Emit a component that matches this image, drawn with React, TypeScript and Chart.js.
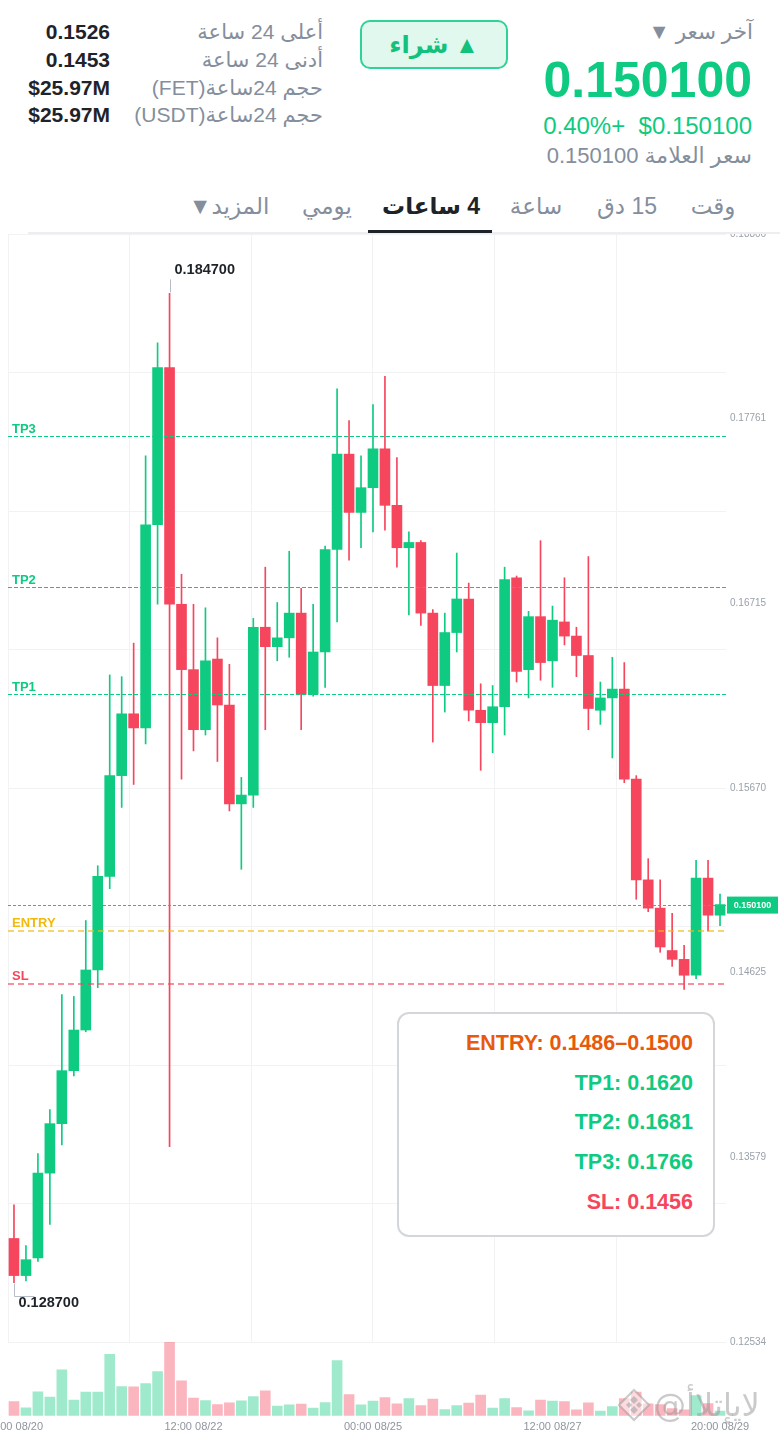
import React, { useEffect, useRef } from "react";
import { Chart, registerables } from "chart.js";

Chart.register(...registerables);

// ---- data (4h candles, FET/USDT) ----
const opens = [
  0.1312, 0.1291, 0.1301, 0.1349, 0.1377, 0.1407, 0.143, 0.1464, 0.1517, 0.1574,
  0.1609, 0.1601, 0.1716, 0.1805, 0.1671, 0.1634, 0.16, 0.164, 0.1614, 0.1558,
  0.1563, 0.1658, 0.1647, 0.1652, 0.1666, 0.162, 0.1644, 0.1702, 0.1756, 0.1723,
  0.1737, 0.1759, 0.1727, 0.1703, 0.1706, 0.1666, 0.1625, 0.1655, 0.1674, 0.1611,
  0.1604, 0.1613, 0.1686, 0.1634, 0.1664, 0.1639, 0.1661, 0.1653, 0.1642, 0.1611,
  0.1618, 0.1623, 0.1572, 0.1515, 0.1499, 0.1475, 0.147, 0.1461, 0.1516, 0.1495,
];
const highs = [
  0.1331, 0.1308, 0.136, 0.1385, 0.145, 0.1449, 0.1492, 0.1523, 0.1631, 0.163,
  0.1649, 0.1755, 0.1819, 0.1847, 0.1688, 0.1671, 0.1669, 0.1652, 0.1637, 0.1573,
  0.1663, 0.1692, 0.1672, 0.1701, 0.168, 0.1671, 0.1704, 0.1793, 0.1775, 0.1755,
  0.1784, 0.18, 0.1754, 0.1712, 0.1707, 0.1668, 0.1666, 0.17, 0.1683, 0.1626,
  0.1625, 0.1692, 0.1687, 0.1667, 0.1707, 0.167, 0.1686, 0.1658, 0.1698, 0.1627,
  0.1641, 0.1638, 0.1574, 0.1527, 0.1515, 0.1496, 0.1478, 0.1526, 0.1526, 0.1507,
];
const lows = [
  0.1287, 0.1288, 0.1299, 0.132, 0.1365, 0.1404, 0.1429, 0.1454, 0.151, 0.1556,
  0.1569, 0.1592, 0.1671, 0.1364, 0.1572, 0.1588, 0.1597, 0.1582, 0.1554, 0.1521,
  0.1556, 0.16, 0.1639, 0.1641, 0.16, 0.1619, 0.1624, 0.1661, 0.1696, 0.1703,
  0.1712, 0.1713, 0.1692, 0.1665, 0.1659, 0.1593, 0.161, 0.1644, 0.1605, 0.1577,
  0.1587, 0.1597, 0.1627, 0.1618, 0.1628, 0.1624, 0.1648, 0.163, 0.16, 0.1603,
  0.1584, 0.157, 0.1504, 0.1497, 0.1474, 0.1466, 0.1453, 0.1459, 0.1486, 0.1489,
];
const closes = [
  0.1291, 0.13, 0.1349, 0.1377, 0.1407, 0.143, 0.1464, 0.1517, 0.1574, 0.1609,
  0.1601, 0.1716, 0.1805, 0.1671, 0.1634, 0.16, 0.1639, 0.1614, 0.1558, 0.1563,
  0.1658, 0.1647, 0.1652, 0.1666, 0.162, 0.1644, 0.1702, 0.1756, 0.1723, 0.1737,
  0.1759, 0.1727, 0.1703, 0.1706, 0.1666, 0.1625, 0.1655, 0.1674, 0.1611, 0.1604,
  0.1613, 0.1685, 0.1633, 0.1664, 0.1638, 0.1662, 0.1653, 0.1642, 0.1612, 0.1618,
  0.1623, 0.1572, 0.1515, 0.1499, 0.1477, 0.147, 0.1461, 0.1516, 0.1495, 0.1501,
];
const volumes = [
  43, 24, 72, 56, 138, 47, 71, 71, 185, 88,
  87, 97, 133, 222, 105, 53, 46, 34, 39, 45,
  58, 75, 29, 33, 35, 23, 40, 166, 64, 33,
  44, 55, 36, 52, 31, 50, 19, 31, 38, 62,
  23, 52, 25, 15, 47, 44, 43, 18, 39, 14,
  28, 52, 71, 36, 34, 22, 18, 61, 37, 14,
];

const xTickIndex = [0, 15, 30, 45, 59];
const xTickLabels = ["00:00 08/20", "12:00 08/22", "00:00 08/25", "12:00 08/27", "20:00 08/29"];
const priceTicks = [0.12534, 0.13579, 0.14625, 0.1567, 0.16715, 0.17761, 0.18806];
const gridPriceTicks = [0.12534, 0.13318, 0.14102, 0.14886, 0.1567, 0.16454, 0.17238, 0.18022, 0.18806];
const gridIndexTicks = [-0.5, 9.67, 19.83, 30, 40.17, 50.33];

const levelNames = ["TP3", "TP2", "TP1", "ENTRY", "SL"];
const levelValues = [0.1766, 0.1681, 0.162, 0.1486, 0.1456];
const entryRange = [0.1486, 0.15];
const lastPrice = 0.1501;

const statLabels = ["أعلى 24 ساعة", "أدنى 24 ساعة", "حجم 24ساعة(FET)", "حجم 24ساعة(USDT)"];
const statValues = ["0.1526", "0.1453", "$25.97M", "$25.97M"];
const tabLabels = ["وقت", "15 دق", "ساعة", "4 ساعات", "يومي", "المزيد▼"];
const activeTab = 3;

// ---- styles ----
const UP = "#0ecb81";
const DOWN = "#f6465d";
const GRAY = "#848e9c";
const DARK = "#1e2329";
const FONT = '"Liberation Sans", Arial, "DejaVu Sans", sans-serif';
const GRID = "#f1f2f4";
const levelStyle: Record<string, any> = {
  TP3: { line: UP, text: UP, width: 1, dash: [4, 2] },
  TP2: { line: UP, text: UP, width: 1, dash: [4, 2] },
  TP1: { line: UP, text: UP, width: 1, dash: [4, 2] },
  ENTRY: { line: "rgba(240,185,11,0.6)", text: "#f0b90b", width: 2, dash: [6, 4] },
  SL: { line: "rgba(246,70,93,0.6)", text: DOWN, width: 2, dash: [6, 4] },
};
const boxColors: Record<string, string> = { ENTRY: "#e8590c", TP1: UP, TP2: UP, TP3: UP, SL: DOWN };

const idx = opens.map((_, i) => i);
const isUp = idx.map((i) => closes[i] >= opens[i]);
const candleColors = isUp.map((u) => (u ? UP : DOWN));
const volColors = isUp.map((u) => (u ? "rgba(14,203,129,0.4)" : "rgba(246,70,93,0.4)"));

const overlayPlugin = {
  id: "overlay",
  afterDatasetsDraw(chart: any) {
    const { ctx, chartArea } = chart;
    const ys = chart.scales.y;
    const xs = chart.scales.x;
    ctx.save();
    levelNames.forEach((name, k) => {
      const st = levelStyle[name];
      const raw = ys.getPixelForValue(levelValues[k]);
      const py = st.width === 1 ? Math.round(raw) + 0.5 : Math.round(raw);
      ctx.beginPath();
      ctx.setLineDash(st.dash);
      ctx.lineWidth = st.width;
      ctx.strokeStyle = st.line;
      ctx.moveTo(chartArea.left, py);
      ctx.lineTo(chartArea.right, py);
      ctx.stroke();
      ctx.setLineDash([]);
      ctx.fillStyle = st.text;
      ctx.font = `bold 13px ${FONT}`;
      ctx.textAlign = "left";
      ctx.textBaseline = "alphabetic";
      ctx.fillText(name, chartArea.left + 4, py - 4);
    });
    // last price line
    const cy = Math.round(ys.getPixelForValue(lastPrice)) + 0.5;
    ctx.beginPath();
    ctx.setLineDash([3, 2]);
    ctx.lineWidth = 1;
    ctx.strokeStyle = UP;
    ctx.moveTo(chartArea.left, cy);
    ctx.lineTo(chartArea.right, cy);
    ctx.stroke();
    ctx.setLineDash([]);

    // high label
    const hi = Math.max(...highs);
    const hiIdx = highs.indexOf(hi);
    const hx = Math.round(xs.getPixelForValue(hiIdx)) + 0.5;
    const hy = ys.getPixelForValue(hi);
    ctx.strokeStyle = "#b7bdc6";
    ctx.lineWidth = 1;
    ctx.beginPath();
    ctx.moveTo(hx, hy - 1);
    ctx.lineTo(hx, hy - 14);
    ctx.stroke();
    ctx.fillStyle = DARK;
    ctx.font = `bold 14.5px ${FONT}`;
    ctx.textBaseline = "middle";
    ctx.textAlign = "left";
    ctx.fillText(hi.toFixed(6), hx + 4, hy - 23);

    // low label
    const lo = Math.min(...lows);
    const loIdx = lows.indexOf(lo);
    const lx = Math.round(xs.getPixelForValue(loIdx)) + 0.5;
    const ly = ys.getPixelForValue(lo);
    ctx.beginPath();
    ctx.moveTo(lx, ly + 1);
    ctx.lineTo(lx, Math.round(ly + 13) + 0.5);
    ctx.lineTo(lx + 20, Math.round(ly + 13) + 0.5);
    ctx.stroke();
    ctx.fillText(lo.toFixed(6), lx + 4, ly + 20);
    ctx.restore();
  },
  afterDraw(chart: any) {
    const { ctx, chartArea } = chart;
    const ys = chart.scales.y;
    const cy = ys.getPixelForValue(lastPrice);
    ctx.save();
    ctx.fillStyle = UP;
    ctx.fillRect(chartArea.right + 1, cy - 8, 51, 17);
    ctx.fillStyle = "#ffffff";
    ctx.font = `bold 9px ${FONT}`;
    ctx.textAlign = "center";
    ctx.textBaseline = "middle";
    ctx.fillText(lastPrice.toFixed(6), chartArea.right + 26.5, cy + 0.5);
    ctx.restore();
  },
};

function PriceChart() {
  const ref = useRef<HTMLCanvasElement>(null);
  useEffect(() => {
    const chart = new Chart(ref.current as HTMLCanvasElement, {
      type: "bar",
      data: {
        datasets: [
          {
            label: "body",
            data: idx.map((i) => ({ x: i, y: [opens[i], closes[i]] })) as any,
            backgroundColor: candleColors,
            borderWidth: 0,
            barThickness: 10,
            grouped: false,
            order: 0,
          } as any,
          {
            label: "wick",
            data: idx.map((i) => ({ x: i, y: [lows[i], highs[i]] })) as any,
            backgroundColor: candleColors,
            borderWidth: 0,
            barThickness: 1,
            grouped: false,
            order: 1,
          } as any,
        ],
      },
      options: {
        animation: false,
        responsive: false,
        maintainAspectRatio: false,
        layout: { padding: { left: 48, right: 0, top: 10, bottom: 10 } },
        plugins: { legend: { display: false }, tooltip: { enabled: false } },
        scales: {
          x: {
            type: "linear",
            min: -0.5,
            max: 59.5,
            offset: false,
            grid: { color: GRID, drawTicks: false, offset: false },
            border: { display: false },
            ticks: { display: false },
            afterBuildTicks: (s: any) => {
              s.ticks = gridIndexTicks.map((v) => ({ value: v }));
            },
          },
          yg: {
            type: "linear",
            position: "left",
            min: priceTicks[0],
            max: priceTicks[priceTicks.length - 1],
            grid: { color: GRID, drawTicks: false },
            border: { display: false },
            ticks: { display: false },
            afterBuildTicks: (s: any) => {
              s.ticks = gridPriceTicks.map((v) => ({ value: v }));
            },
            afterFit: (s: any) => {
              s.width = 0;
            },
          },
          y: {
            type: "linear",
            position: "right",
            min: priceTicks[0],
            max: priceTicks[priceTicks.length - 1],
            grid: { display: false, drawTicks: false },
            border: { display: false },
            ticks: {
              color: "#9aa1aa",
              font: { size: 10, family: FONT },
              padding: 4,
              callback: (v: any) => Number(v).toFixed(5),
            },
            afterBuildTicks: (s: any) => {
              s.ticks = priceTicks.map((v) => ({ value: v }));
            },
            afterFit: (s: any) => {
              s.width = 54;
            },
          },
        } as any,
      },
      plugins: [overlayPlugin],
    });
    return () => chart.destroy();
  }, []);
  return (
    <canvas
      ref={ref}
      width={820}
      height={1128}
      style={{ position: "absolute", left: -40, top: 224, width: 820, height: 1128 }}
    />
  );
}

function VolumeChart() {
  const ref = useRef<HTMLCanvasElement>(null);
  useEffect(() => {
    const chart = new Chart(ref.current as HTMLCanvasElement, {
      type: "bar",
      data: {
        datasets: [
          {
            label: "volume",
            data: idx.map((i) => ({ x: i, y: volumes[i] })) as any,
            backgroundColor: volColors,
            borderWidth: 0,
            barThickness: 10,
            grouped: false,
          } as any,
        ],
      },
      options: {
        animation: false,
        responsive: false,
        maintainAspectRatio: false,
        layout: { padding: { left: 48, right: 54, top: 0, bottom: 0 } },
        plugins: { legend: { display: false }, tooltip: { enabled: false } },
        scales: {
          x: {
            type: "linear",
            min: -0.5,
            max: 59.5,
            offset: false,
            grid: { display: false, drawTicks: false, offset: false },
            border: { display: false },
            ticks: {
              color: "#8f959e",
              font: { size: 11, family: FONT },
              padding: 5,
              maxRotation: 0,
              autoSkip: false,
              callback: (_v: any, i: number) => xTickLabels[i],
            },
            afterBuildTicks: (s: any) => {
              s.ticks = xTickIndex.map((v) => ({ value: v }));
            },
          },
          y: { display: false, min: 0, max: Math.max(...volumes) },
        } as any,
      },
    });
    return () => chart.destroy();
  }, []);
  return (
    <canvas
      ref={ref}
      width={820}
      height={97}
      style={{ position: "absolute", left: -40, top: 1342, width: 820, height: 97 }}
    />
  );
}

function Header() {
  const tabCenters = [713, 627, 536, 431, 327, 229];
  return (
    <div
      style={{
        position: "absolute",
        left: 0,
        top: 0,
        width: 780,
        height: 234,
        background: "#fff",
        zIndex: 2,
        fontFamily: FONT,
      }}
    >
      {/* stats columns */}
      <div
        dir="rtl"
        style={{
          position: "absolute",
          right: 457,
          top: 18,
          fontSize: 21,
          lineHeight: "27.8px",
          color: GRAY,
          textAlign: "right",
          whiteSpace: "nowrap",
        }}
      >
        {statLabels.map((s) => (
          <div key={s}>{s}</div>
        ))}
      </div>
      <div
        style={{
          position: "absolute",
          right: 670,
          top: 18,
          fontSize: 21,
          fontWeight: "bold",
          lineHeight: "27.8px",
          color: DARK,
          textAlign: "right",
          whiteSpace: "nowrap",
        }}
      >
        {statValues.map((s, i) => (
          <div key={i}>{s}</div>
        ))}
      </div>

      {/* buy button */}
      <div
        dir="rtl"
        style={{
          position: "absolute",
          left: 360,
          top: 20,
          width: 148,
          height: 49,
          boxSizing: "border-box",
          border: "2px solid #2fd398",
          borderRadius: 10,
          background: "#e0f8ee",
          color: "#12c17c",
          fontSize: 24,
          fontWeight: "bold",
          display: "flex",
          alignItems: "center",
          justifyContent: "center",
        }}
      >
        ▲ شراء
      </div>

      {/* price block */}
      <div
        dir="rtl"
        style={{ position: "absolute", right: 27, top: 19, fontSize: 21.5, lineHeight: "26px", color: GRAY, whiteSpace: "nowrap" }}
      >
        آخر سعر ▼
      </div>
      <div
        style={{
          position: "absolute",
          right: 28,
          top: 55,
          fontSize: 50,
          lineHeight: "50px",
          fontWeight: "bold",
          color: UP,
          whiteSpace: "nowrap",
        }}
      >
        {lastPrice.toFixed(6)}
      </div>
      <div
        dir="rtl"
        style={{
          position: "absolute",
          right: 28,
          top: 112,
          fontSize: 24,
          lineHeight: "27px",
          color: UP,
          whiteSpace: "pre",
        }}
      >
        {"$" + lastPrice.toFixed(6) + "  +0.40%"}
      </div>
      <div
        dir="rtl"
        style={{
          position: "absolute",
          right: 28,
          top: 143,
          fontSize: 22,
          lineHeight: "26px",
          color: GRAY,
          whiteSpace: "nowrap",
        }}
      >
        {"سعر العلامة " + lastPrice.toFixed(6)}
      </div>

      {/* tabs */}
      {tabLabels.map((t, i) => (
        <div
          key={t}
          dir="rtl"
          style={{
            position: "absolute",
            left: tabCenters[i],
            top: 191,
            transform: "translateX(-50%)",
            fontSize: 23,
            lineHeight: "30px",
            whiteSpace: "nowrap",
            color: i === activeTab ? DARK : GRAY,
            fontWeight: i === activeTab ? "bold" : "normal",
          }}
        >
          {t}
        </div>
      ))}
      <div style={{ position: "absolute", left: 28, right: 0, top: 232, height: 2, background: "#eceef1" }} />
      <div style={{ position: "absolute", left: 368, width: 124, top: 230, height: 3, background: DARK }} />
    </div>
  );
}

function InfoBox() {
  const lines = [
    { key: "ENTRY", text: `ENTRY: ${entryRange[0].toFixed(4)}–${entryRange[1].toFixed(4)}` },
    { key: "TP1", text: `TP1: ${levelValues[2].toFixed(4)}` },
    { key: "TP2", text: `TP2: ${levelValues[1].toFixed(4)}` },
    { key: "TP3", text: `TP3: ${levelValues[0].toFixed(4)}` },
    { key: "SL", text: `SL: ${levelValues[4].toFixed(4)}` },
  ];
  return (
    <div
      style={{
        position: "absolute",
        left: 397,
        top: 1012,
        width: 318,
        height: 225,
        boxSizing: "border-box",
        border: "2px solid #d3d6db",
        borderRadius: 12,
        background: "#fff",
        zIndex: 3,
        padding: "10px 20px 0 0",
        textAlign: "right",
        fontFamily: FONT,
        fontWeight: "bold",
        fontSize: 21.5,
        lineHeight: "39.7px",
      }}
    >
      {lines.map((l) => (
        <div key={l.key} style={{ color: boxColors[l.key], whiteSpace: "nowrap" }}>
          {l.text}
        </div>
      ))}
    </div>
  );
}

function Watermark() {
  const c = "rgba(150,150,150,0.5)";
  return (
    <div
      style={{
        position: "absolute",
        left: 617,
        top: 1386,
        height: 38,
        display: "flex",
        alignItems: "center",
        zIndex: 4,
        fontFamily: '"DejaVu Sans", sans-serif',
        pointerEvents: "none",
      }}
    >
      <svg width="34" height="34" viewBox="0 0 34 34">
        <path d="M17 2 L32 17 L17 32 L2 17 Z" fill="rgba(255,255,255,0.5)" stroke={c} strokeWidth="2" />
        <path d="M17 8 L21 12 L17 16 L13 12 Z" fill={c} />
        <path d="M9 17 L12 14 L15 17 L12 20 Z" fill={c} />
        <path d="M19 17 L22 14 L25 17 L22 20 Z" fill={c} />
        <path d="M17 18 L21 22 L17 26 L13 22 Z" fill={c} />
      </svg>
      <span style={{ fontSize: 32, color: c, marginLeft: 3, whiteSpace: "nowrap", letterSpacing: 2 }}>
        <span dir="ltr" style={{ unicodeBidi: "bidi-override" }}>
          @أالتإيال
        </span>
      </span>
    </div>
  );
}

export default function App() {
  return (
    <div
      style={{
        position: "absolute",
        left: 0,
        top: 0,
        width: 780,
        height: 1434,
        overflow: "hidden",
        background: "#fff",
        fontFamily: FONT,
      }}
    >
      <PriceChart />
      <VolumeChart />
      <Header />
      <InfoBox />
      <Watermark />
    </div>
  );
}
